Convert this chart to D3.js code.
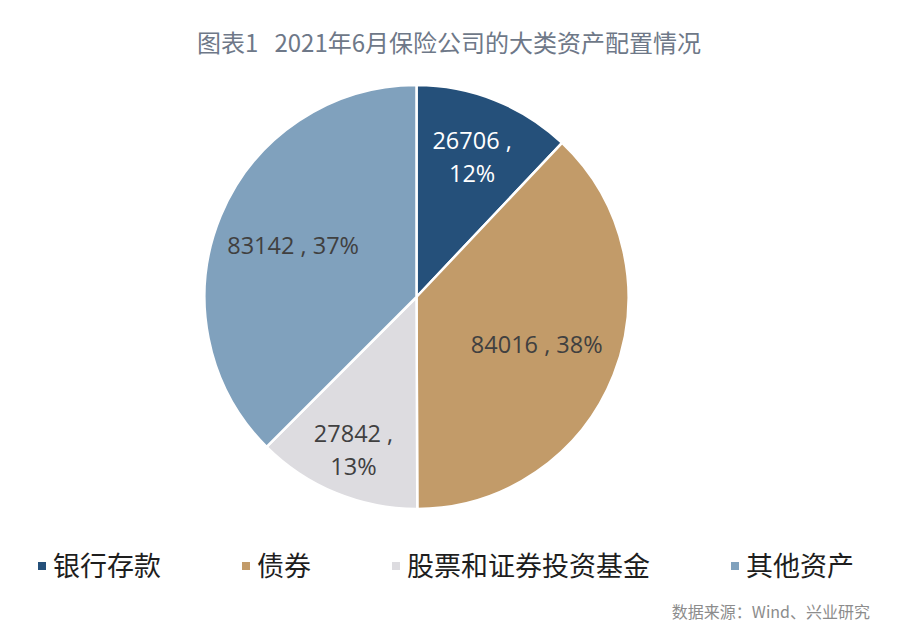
<!DOCTYPE html>
<html>
<head>
<meta charset="utf-8">
<script src="https://cdn.jsdelivr.net/npm/d3@7"></script>
<style>
  html, body { margin: 0; padding: 0; background: #fff; }
  svg { display: block; }
</style>
</head>
<body>
<div id="chart"></div>
<script>
// data
const categories = ['银行存款', '债券', '股票和证券投资基金', '其他资产'];
const values = [26706, 84016, 27842, 83142];
const percents = ['12%', '38%', '13%', '37%'];
const colors = ['#25507a', '#c29b69', '#dddce0', '#80a1bd'];
const labelColors = ['#ffffff', '#404040', '#404040', '#404040'];
// how far out each data label sits (fraction of radius)
const labelRadius = [0.71, 0.61, 0.78, 0.63];

const title = '图表1\u00a0\u00a0\u00a02021年6月保险公司的大类资产配置情况';
const source = '数据来源：Wind、兴业研究';

const W = 900, H = 634;
const cx = 416.5, cy = 297, R = 212;

const svg = d3.select('#chart').append('svg')
    .attr('width', W)
    .attr('height', H);

svg.append('text')
    .attr('x', 449)
    .attr('y', 44)
    .attr('dy', '0.35em')
    .attr('text-anchor', 'middle')
    .style('font-family', '"Noto Sans CJK SC", "Noto Sans", sans-serif')
    .style('font-size', '24px')
    .style('fill', '#6e7888')
    .text(title);

const pie = d3.pie().sort(null).value(d => d);
const arcs = pie(values);

const arc = d3.arc().innerRadius(0).outerRadius(R);

const g = svg.append('g')
    .attr('transform', `translate(${cx},${cy})`);

g.selectAll('path')
    .data(arcs)
    .enter().append('path')
    .attr('d', arc)
    .attr('fill', (d, i) => colors[i])
    .attr('stroke', '#fff')
    .attr('stroke-width', 2.5)
    .attr('stroke-linejoin', 'round');

// data labels: value , percent (two lines on the narrow slices)
const labels = g.selectAll('text.lbl')
    .data(arcs)
    .enter().append('text')
    .attr('class', 'lbl')
    .attr('transform', (d, i) => {
        const r = R * labelRadius[i];
        const c = d3.arc().innerRadius(r).outerRadius(r).centroid(d);
        return `translate(${c[0]},${c[1]})`;
    })
    .attr('text-anchor', 'middle')
    .style('font-family', '"Open Sans", "Noto Sans", sans-serif')
    .style('font-size', '23.5px')
    .style('fill', (d, i) => labelColors[i]);

labels.each(function(d, i) {
    const t = d3.select(this);
    const narrow = (d.endAngle - d.startAngle) < 1;
    if (narrow) {
        t.append('tspan').attr('x', 0).attr('dy', '-0.33em').text(values[i] + ' ,');
        t.append('tspan').attr('x', 0).attr('dy', '1.38em').text(percents[i]);
    } else {
        t.append('tspan').attr('x', 0).attr('dy', '0.35em').text(values[i] + ' , ' + percents[i]);
    }
});

// legend
const legend = svg.append('g').attr('class', 'legend');
let lx = 38;
const ly = 566;
categories.forEach((c, i) => {
    const item = legend.append('g').attr('transform', `translate(${lx},${ly})`);
    item.append('rect')
        .attr('x', 0)
        .attr('y', -4)
        .attr('width', 8)
        .attr('height', 8)
        .attr('fill', colors[i]);
    const txt = item.append('text')
        .attr('x', 15)
        .attr('dy', '0.36em')
        .style('font-family', '"Noto Sans CJK SC", sans-serif')
        .style('font-size', '27px')
        .style('fill', '#1e1e1e')
        .text(c);
    lx += 15 + txt.node().getComputedTextLength() + 81;
});

svg.append('text')
    .attr('x', 870)
    .attr('y', 612)
    .attr('dy', '0.35em')
    .attr('text-anchor', 'end')
    .style('font-family', '"Noto Sans CJK SC", sans-serif')
    .style('font-size', '16px')
    .style('fill', '#8c8c8c')
    .text(source);
</script>
</body>
</html>
